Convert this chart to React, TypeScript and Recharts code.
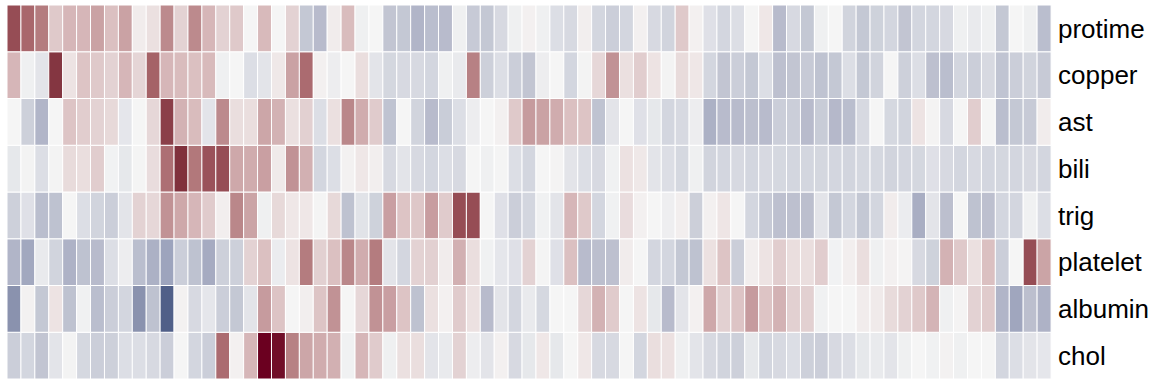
import { BarChart, Bar, XAxis, YAxis, Cell } from 'recharts'

// rows from top to bottom
const rowNames = ['protime', 'copper', 'ast', 'bili', 'trig', 'platelet', 'albumin', 'chol']

// scaled values per column (-1 = dark blue, 0 = white, 1 = dark red)
const protime = [
  0.8, 0.7, 0.6, 0.25, 0.35, 0.35, 0.45, 0.3, 0.45, 0.05, 0.12, 0.55, 0.2, 0.55, 0.35, 0.2, 0.25, 0, 0.33,
  0, 0.2, -0.4, -0.5, 0.05, 0.32, -0.05, 0, -0.42, -0.4, -0.55, -0.48, -0.5, -0.05, -0.38, -0.4, -0.25, -0.05, 0.03,
  -0.05, -0.2, -0.25, 0.04, -0.28, -0.35, -0.28, 0.03, -0.25, -0.3, 0.25, 0.03, -0.18, -0.28, -0.2, 0, 0.08, -0.5,
  -0.25, -0.4, -0.05, 0, -0.3, -0.4, -0.32, -0.28, -0.42, -0.28, -0.28, -0.25, -0.05, -0.1, -0.05, -0.4, 0, -0.05, -0.48,
]
const copper = [
  0.35, -0.05, -0.15, 0.88, 0.1, 0.28, 0.25, 0.2, 0.35, 0.18, 0.72, 0.35, 0.32, 0.3, 0.33, -0.05, 0, -0.2, -0.15,
  0.07, 0.45, 0.68, 0.03, -0.07, 0, 0.13, -0.15, -0.27, -0.25, -0.25, -0.28, -0.05, -0.1, 0.58, -0.33, -0.2, -0.35, -0.42,
  -0.07, 0, -0.28, -0.02, 0.17, 0.52, 0.12, 0.23, 0.1, -0.02, 0.15, 0.08, -0.28, -0.42, -0.35, -0.4, -0.2, -0.46,
  -0.42, -0.38, -0.44, -0.4, -0.2, -0.4, -0.3, 0, -0.33, -0.2, -0.46, -0.48, -0.28, -0.35, -0.25, -0.43, -0.35, -0.3, -0.38,
]
const ast = [
  0, -0.33, -0.55, 0, 0.28, 0.23, 0.2, 0.16, -0.13, 0, 0.17, 0.85, 0.37, 0.32, -0.15, 0.55, 0.13, 0.13, 0.43,
  0.37, 0.12, 0.21, -0.2, 0.12, 0.56, 0.4, 0.24, -0.44, 0, -0.3, -0.5, -0.36, -0.2, -0.07, 0, 0.03, 0.25, 0.48,
  0.45, 0.4, 0.3, 0.28, -0.44, -0.15, 0, -0.18, -0.12, -0.28, -0.25, -0.07, -0.58, -0.5, -0.5, -0.47, -0.5, -0.35,
  -0.35, -0.5, -0.37, -0.52, -0.48, -0.25, 0, -0.26, -0.3, 0.1, 0.01, -0.25, 0, 0.23, 0, -0.48, -0.4, -0.38, 0.05,
]
const bili = [
  -0.12, -0.02, -0.2, -0.02, 0.15, 0.13, 0.23, -0.03, -0.12, -0.01, 0.14, 0.66, 0.9, 0.62, 0.78, 0.8, 0.42, 0.4, 0.46,
  0.06, 0.52, 0.38, -0.28, -0.2, 0.02, 0.08, 0.04, -0.25, -0.15, -0.25, -0.28, -0.2, -0.25, 0, -0.05, -0.01, -0.2, -0.28,
  0, 0.01, -0.15, -0.2, -0.25, -0.04, 0.11, 0.07, -0.15, -0.2, -0.26, -0.05, -0.3, -0.28, -0.25, -0.28, -0.25, -0.26,
  -0.28, -0.28, -0.27, -0.28, -0.29, -0.26, -0.26, -0.3, -0.28, -0.27, -0.18, -0.25, -0.28, -0.25, -0.28, -0.27, -0.28, -0.25, -0.28,
]
const trig = [
  -0.33, -0.18, -0.48, -0.45, 0, -0.2, -0.3, -0.35, -0.15, 0.2, 0.17, 0.52, 0.42, 0.35, 0.24, 0.04, 0.56, 0.44, -0.05,
  0.16, 0.08, 0.08, -0.01, 0.16, -0.45, -0.16, -0.32, 0.46, 0.28, 0.26, 0.47, 0.24, 0.8, 0.8, 0, -0.18, -0.35, -0.28,
  -0.04, -0.15, 0.35, 0.25, -0.28, -0.04, 0.14, 0.03, 0, -0.06, 0.04, -0.34, 0.03, 0.09, 0, -0.28, -0.38, -0.46,
  -0.46, -0.47, -0.15, -0.4, -0.28, -0.4, -0.28, 0.05, -0.08, -0.6, -0.15, -0.47, 0, -0.45, -0.46, -0.28, -0.28, -0.04, -0.2,
]
const platelet = [
  -0.55, -0.65, -0.1, -0.3, -0.57, -0.45, -0.5, -0.2, -0.07, -0.48, -0.58, -0.68, -0.35, -0.45, -0.62, -0.33, -0.33, 0.2, 0.3,
  -0.08, 0.1, 0.6, 0.21, 0.3, 0.56, 0.4, 0.6, -0.15, -0.28, 0.2, 0.21, 0.05, 0.38, 0.13, -0.04, -0.13, -0.18, 0.2,
  -0.01, -0.18, 0.3, -0.5, -0.47, -0.46, 0.05, 0, -0.28, -0.28, -0.4, -0.45, 0.11, 0.28, -0.35, 0.04, 0.1, 0.23,
  0.13, 0.13, 0.23, -0.03, 0.04, 0.13, -0.05, 0.03, 0.01, -0.25, -0.32, 0.37, 0.25, 0.12, 0.3, -0.35, 0, 0.8, 0.44,
]
const albumin = [
  -0.78, 0.02, -0.4, 0.1, -0.45, -0.04, -0.48, -0.35, -0.28, -0.78, -0.45, -1, 0.02, -0.25, -0.13, -0.35, -0.4, -0.15, 0.48,
  0.28, 0, 0.04, 0.28, 0.52, 0, 0.17, 0.52, 0.46, 0.28, -0.45, 0.12, 0.03, 0.24, 0.11, -0.5, -0.15, -0.28, -0.1,
  -0.26, 0, 0, 0.17, 0.37, 0.24, 0, 0.1, -0.12, -0.5, -0.15, 0.03, 0.42, 0.21, 0.28, 0.48, 0.28, 0.37,
  0.21, 0.21, -0.04, 0, 0, 0.05, 0.06, 0.15, 0.2, 0.25, 0.36, -0.05, 0.01, 0.2, 0.24, -0.55, -0.66, -0.47, -0.57,
]
const chol = [
  -0.35, -0.28, -0.42, -0.15, -0.02, -0.26, -0.35, -0.33, -0.2, -0.2, -0.25, -0.35, 0, -0.28, -0.35, 0.68, 0.03, 0.35, 1,
  0.97, 0.58, 0.43, 0.4, 0.38, -0.04, 0.35, 0.24, -0.05, 0.12, 0.13, -0.15, -0.1, 0.2, -0.07, -0.15, 0.03, -0.25, -0.12,
  0.08, -0.12, 0, 0.08, -0.25, -0.25, 0, -0.28, 0.13, 0.11, -0.05, -0.15, -0.25, -0.3, -0.33, -0.12, -0.28, -0.25,
  -0.2, -0.33, -0.35, -0.25, -0.2, -0.12, -0.1, -0.15, -0.05, 0, -0.04, 0.02, -0.05, 0, 0, -0.28, -0.2, -0.15, -0.13,
]

const rows: Record<string, number[]> = { protime, copper, ast, bili, trig, platelet, albumin, chol }

// colour stops of the diverging scale
const stops: [number, string][] = [
  [-1, '#505f88'], [-0.9, '#6b789a'], [-0.8, '#868eab'], [-0.7, '#9aa1bb'], [-0.6, '#a9aec3'],
  [-0.5, '#b8bbcc'], [-0.4, '#c4c8d4'], [-0.3, '#d1d4dd'], [-0.2, '#dcdee5'], [-0.1, '#e9eaed'],
  [0, '#f5f5f5'], [0.1, '#ede3e3'], [0.2, '#e3d2d3'], [0.3, '#dbc0c1'], [0.4, '#d0acae'],
  [0.5, '#c4979a'], [0.6, '#b47c7f'], [0.7, '#a9676c'], [0.8, '#964d55'], [0.9, '#80303c'], [1, '#6b0020'],
]

function rgb(h: string) {
  return [1, 3, 5].map((i) => parseInt(h.slice(i, i + 2), 16))
}

function colorFor(v: number) {
  for (let i = 0; i < stops.length - 1; i++) {
    const [a, ca] = stops[i]
    const [b, cb] = stops[i + 1]
    if (v >= a && v <= b) {
      const t = (v - a) / (b - a)
      const x = rgb(ca)
      const y = rgb(cb)
      return `rgb(${x.map((c, k) => Math.round(c + (y[k] - c) * t)).join(',')})`
    }
  }
  return '#f5f5f5'
}

const data = protime.map((_, i) => {
  const d: Record<string, number> = { col: i + 1 }
  rowNames.forEach((n) => (d[n] = 1))
  return d
})

// stacked from the bottom up
const stackOrder = [...rowNames].reverse()
const rowTicks = [0.5, 1.5, 2.5, 3.5, 4.5, 5.5, 6.5, 7.5]

export default function App() {
  return (
    <div style={{ position: 'absolute', left: 0, top: 0 }}>
      <BarChart
        width={1152}
        height={384}
        data={data}
        margin={{ top: 5, right: 0, bottom: 5, left: 7 }}
        barCategoryGap={0}
      >
        <XAxis dataKey="col" hide />
        <YAxis
          orientation="right"
          type="number"
          domain={[0, 8]}
          ticks={rowTicks}
          interval={0}
          width={101}
          tickLine={false}
          axisLine={false}
          tickSize={0}
          tickMargin={7}
          tickFormatter={(v: number) => rowNames[7 - Math.floor(v)]}
          tick={{ fontSize: 26, fill: '#000', fontFamily: 'Liberation Sans, Arial, sans-serif' }}
        />
        {stackOrder.map((name) => (
          <Bar key={name} dataKey={name} stackId="a" stroke="#fff" strokeWidth={1} isAnimationActive={false}>
            {rows[name].map((v, i) => (
              <Cell key={i} fill={colorFor(v)} />
            ))}
          </Bar>
        ))}
      </BarChart>
    </div>
  )
}
